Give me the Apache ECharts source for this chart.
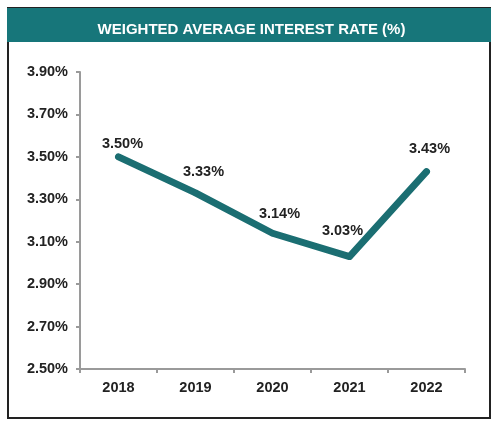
<!DOCTYPE html>
<html>
<head>
<meta charset="utf-8">
<script src="https://cdn.jsdelivr.net/npm/echarts@6/dist/echarts.min.js"></script>
<style>
  html, body { margin: 0; padding: 0; background: #fff; }
  #chart { width: 503px; height: 428px; }
</style>
</head>
<body>
<div id="chart"></div>
<script>
const years = ['2018', '2019', '2020', '2021', '2022'];
const rates = [3.50, 3.33, 3.14, 3.03, 3.43];
const titleText = 'WEIGHTED AVERAGE INTEREST RATE (%)';

// nudges for the value labels, as placed in the original
const labelNudge = [[4, 8], [8, 0], [7, 1], [-7, -5], [3, -2]];

const TEAL = '#17767a';
const LINE = '#1b6e72';
const FONT = 'Liberation Sans, Arial, sans-serif';

const chart = echarts.init(document.getElementById('chart'));

chart.setOption({
  animation: false,
  title: {
    text: titleText,
    left: 'center',
    top: 17,
    textStyle: { color: '#fff', fontFamily: FONT, fontWeight: 'bold', fontSize: 15 }
  },
  graphic: [
    // outer frame
    {
      type: 'rect',
      z: -10,
      shape: { x: 8, y: 8, width: 482, height: 410 },
      style: { fill: '#fff', stroke: '#222', lineWidth: 2 }
    },
    // title band
    {
      type: 'rect',
      z: -5,
      shape: { x: 7, y: 8, width: 484, height: 34 },
      style: { fill: TEAL }
    }
  ],
  grid: { left: 80, right: 38, top: 72, bottom: 59 },
  xAxis: {
    type: 'category',
    data: years,
    axisLine: { lineStyle: { color: '#9a9a9a', width: 2 } },
    axisTick: { show: true, length: 4, lineStyle: { color: '#9a9a9a', width: 2 } },
    axisLabel: { color: '#222', fontWeight: 'bold', fontSize: 14.5, margin: 11, fontFamily: FONT }
  },
  yAxis: {
    type: 'value',
    min: 2.5,
    max: 3.9,
    interval: 0.2,
    splitLine: { show: false },
    axisLine: { show: true, lineStyle: { color: '#9a9a9a', width: 2 } },
    axisTick: { show: true, length: 4, lineStyle: { color: '#9a9a9a', width: 2 } },
    axisLabel: {
      color: '#222', fontWeight: 'bold', fontSize: 14.5, margin: 12, fontFamily: FONT,
      formatter: v => v.toFixed(2) + '%'
    }
  },
  series: [{
    type: 'line',
    data: rates.map((v, i) => ({ value: v, label: { offset: labelNudge[i] } })),
    symbol: 'circle',
    symbolSize: 6,
    showSymbol: true,
    itemStyle: { color: LINE },
    lineStyle: { color: LINE, width: 7, cap: 'round', join: 'round' },
    label: {
      show: true,
      position: 'top',
      distance: 10,
      color: '#222',
      fontWeight: 'bold',
      fontSize: 14.5,
      fontFamily: FONT,
      formatter: p => p.value.toFixed(2) + '%'
    }
  }]
});
</script>
</body>
</html>
